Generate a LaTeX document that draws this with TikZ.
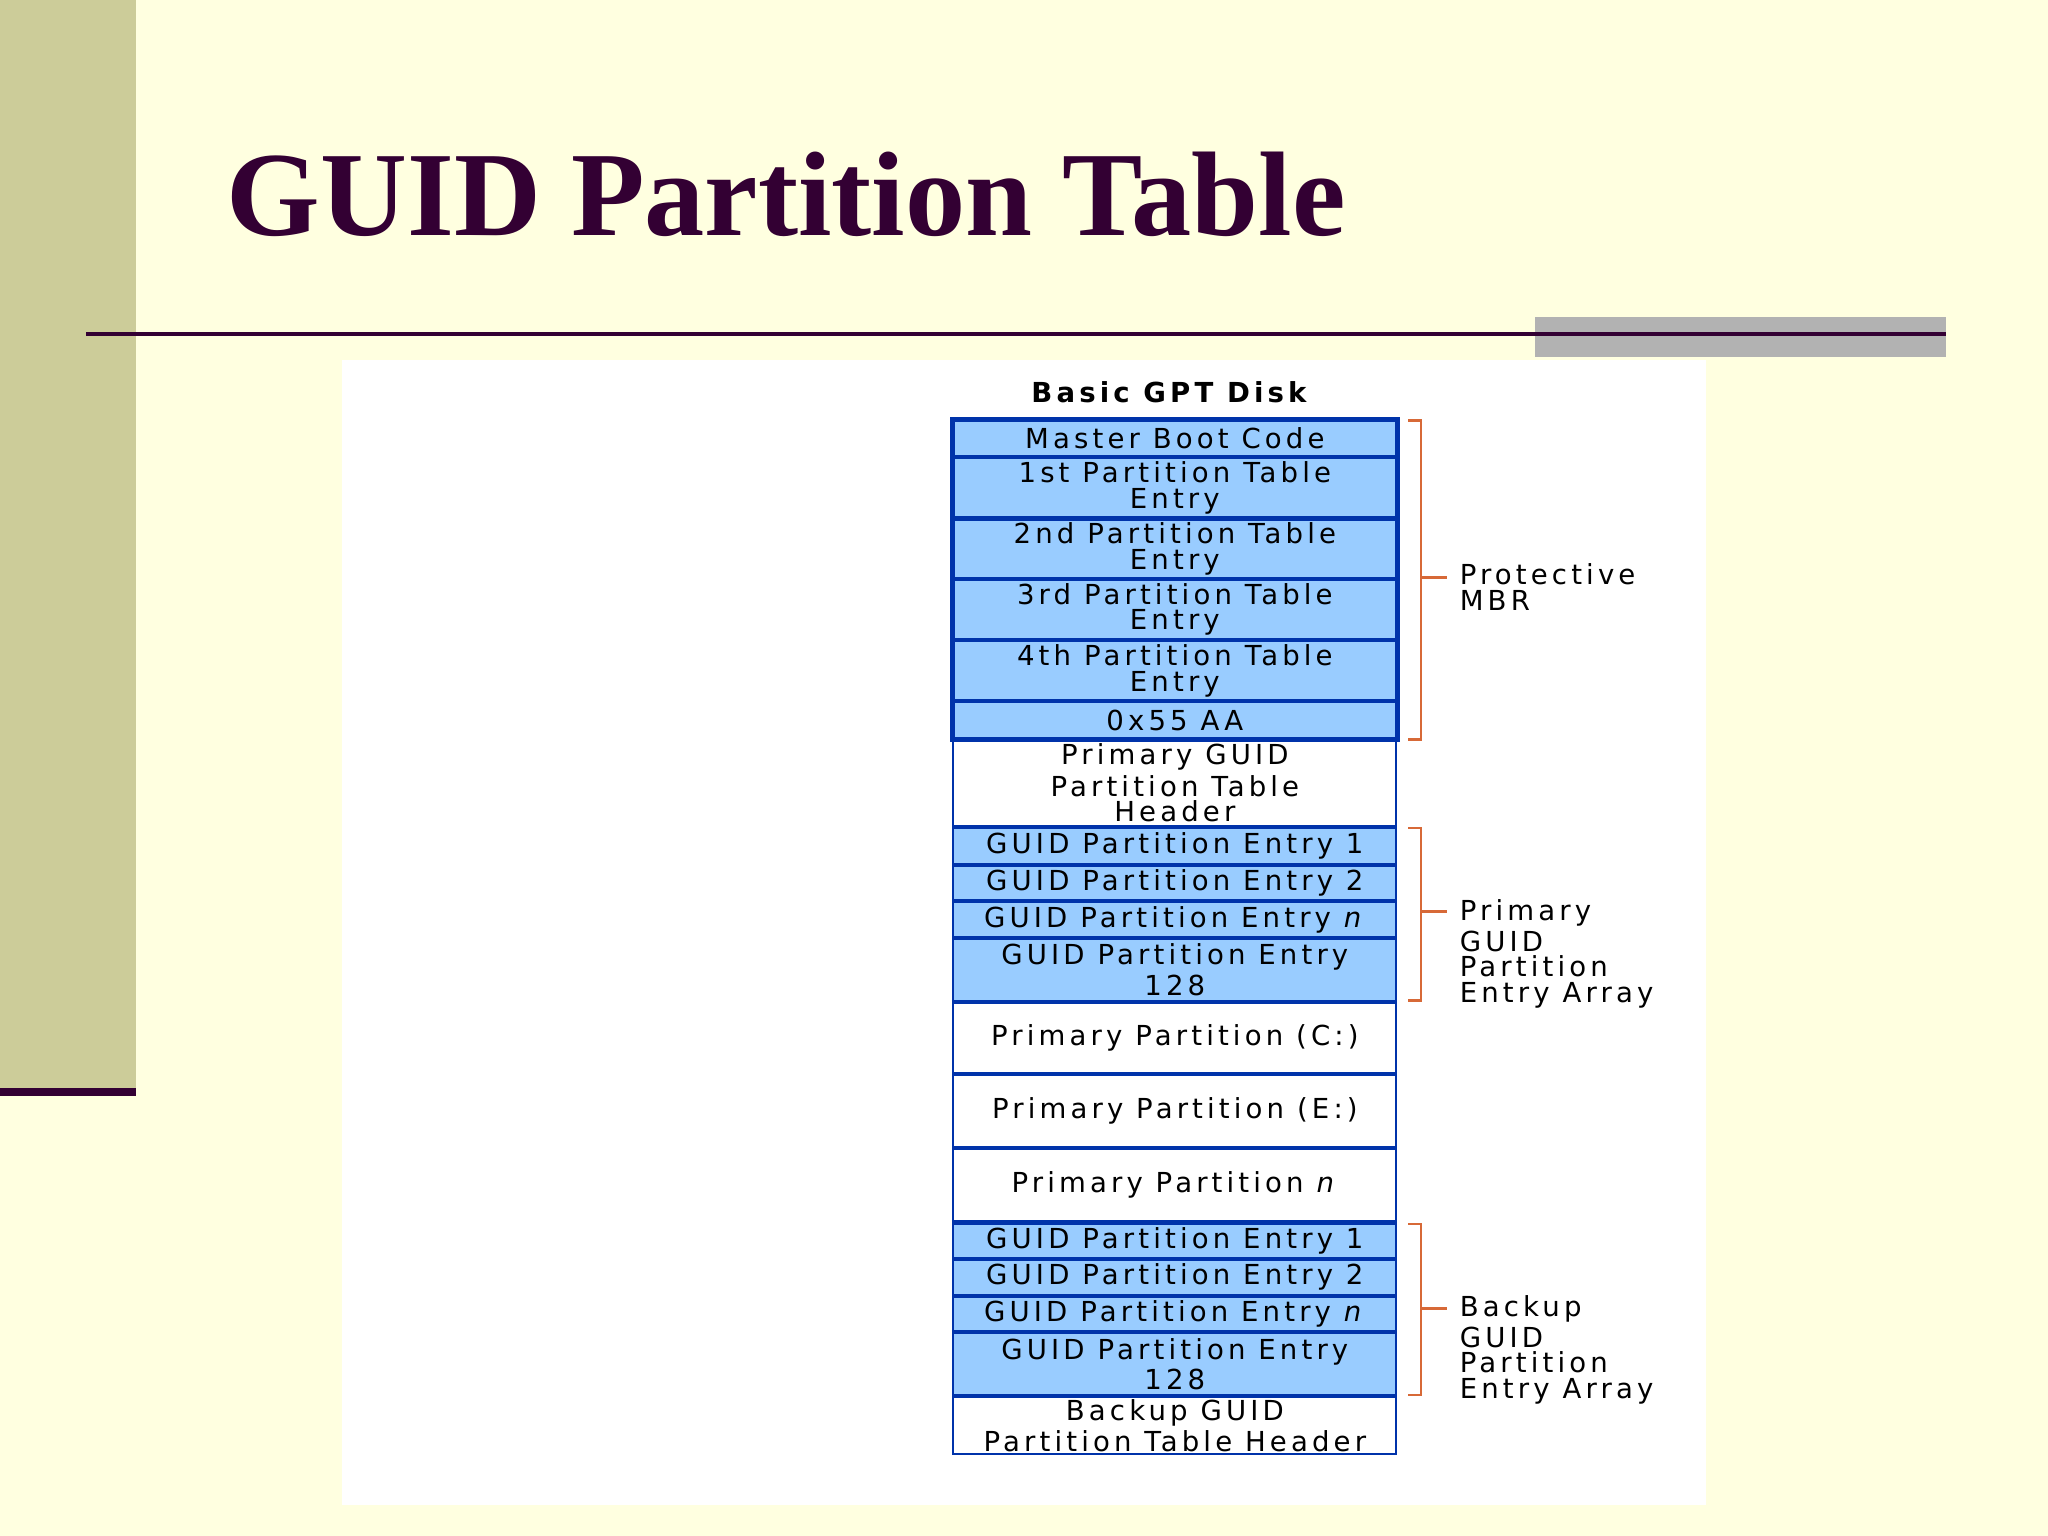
\documentclass[tikz,border=0pt]{standalone}
\usepackage{fontspec}
\setmainfont{Liberation Serif}
\newfontfamily\boxfont[LetterSpace=15]{DejaVu Sans}
\definecolor{bg}{RGB}{255,255,224}
\definecolor{band}{RGB}{204,204,153}
\definecolor{dpurple}{RGB}{51,0,51}
\definecolor{cellblue}{RGB}{153,204,255}
\definecolor{cellline}{RGB}{0,51,170}
\definecolor{brk}{RGB}{215,105,55}
\tikzset{
 cell/.style={draw=cellline,line width=0.45pt,minimum width=3.39cm,inner sep=0pt,align=center,
   font=\boxfont\fontsize{6pt}{5.6pt}\selectfont},
 bluecell/.style={cell,fill=cellblue},
 whitecell/.style={cell,fill=white},
 brace/.style={draw=brk,line width=0.55pt},
 lbl/.style={anchor=north west,align=left,inner sep=0pt,font=\boxfont\fontsize{6pt}{5.6pt}\selectfont}
}
\begin{document}
\begin{tikzpicture}[x=0.01cm,y=-0.01cm]
\fill[bg] (0,0) rectangle (1568,1176);
\useasboundingbox (0,0) rectangle (1568,1176);
\fill[band] (0,0) rectangle (104,833);
\fill[dpurple] (0,833) rectangle (104,839);
\node[anchor=base west,inner sep=0pt,text=dpurple,font=\bfseries\fontsize{26.2pt}{28pt}\selectfont] (title) at (173,180) {GUID Partition Table};
\fill[gray!60] (1175,243) rectangle (1490,273);
\draw[dpurple,line width=0.9pt] (66,256) -- (1490,256);
\fill[white] (262,276) rectangle (1306,1152);
\node[font=\boxfont\bfseries\fontsize{6pt}{5.6pt}\selectfont] (head) at (895,300) {Basic GPT Disk};
\newcommand\cellrow[5]{\node[#1,minimum height=#4*0.01cm-0.45pt] (#2) at (899.5,#3+#4/2) {#5};}
\cellrow{bluecell}{mbc}{321}{29}{Master Boot Code}
\cellrow{bluecell}{p1}{350}{47}{1st Partition Table\\Entry}
\cellrow{bluecell}{p2}{397}{46}{2nd Partition Table\\Entry}
\cellrow{bluecell}{p3}{443}{47}{3rd Partition Table\\Entry}
\cellrow{bluecell}{p4}{490}{47}{4th Partition Table\\Entry}
\cellrow{bluecell}{sig}{537}{29}{0x55 AA}
\cellrow{whitecell}{phdr}{566}{67}{Primary GUID\\Partition Table\\Header}
\cellrow{bluecell}{e1}{633}{29}{GUID Partition Entry 1}
\cellrow{bluecell}{e2}{662}{28}{GUID Partition Entry 2}
\cellrow{bluecell}{en}{690}{28}{GUID Partition Entry \textit{n}}
\cellrow{bluecell}{e128}{718}{49}{GUID Partition Entry\\128}
\cellrow{whitecell}{pc}{767}{55}{Primary Partition (C:)}
\cellrow{whitecell}{pe}{822}{57}{Primary Partition (E:)}
\cellrow{whitecell}{pn}{879}{57}{Primary Partition \textit{n}}
\cellrow{bluecell}{b1}{936}{28}{GUID Partition Entry 1}
\cellrow{bluecell}{b2}{964}{28}{GUID Partition Entry 2}
\cellrow{bluecell}{bn}{992}{28}{GUID Partition Entry \textit{n}}
\cellrow{bluecell}{b128}{1020}{49}{GUID Partition Entry\\128}
\cellrow{whitecell}{bhdr}{1069}{45}{Backup GUID\\Partition Table Header}
\draw[cellline,line width=1.1pt] (mbc.north west) rectangle (sig.south east);
\draw[brace] (1078,322) -- (1088,322) -- (1088,566) -- (1078,566);
\draw[brace] (1088,442) -- (1108,442);
\draw[brace] (1078,634) -- (1088,634) -- (1088,766) -- (1078,766);
\draw[brace] (1088,698) -- (1108,698);
\draw[brace] (1078,937) -- (1088,937) -- (1088,1068) -- (1078,1068);
\draw[brace] (1088,1002) -- (1108,1002);
\node[lbl] (l1) at (1117,431) {Protective\\MBR};
\node[lbl] (l2) at (1117,688) {Primary\\GUID\\Partition\\Entry Array};
\node[lbl] (l3) at (1117,991) {Backup\\GUID\\Partition\\Entry Array};
\end{tikzpicture}
\end{document}
